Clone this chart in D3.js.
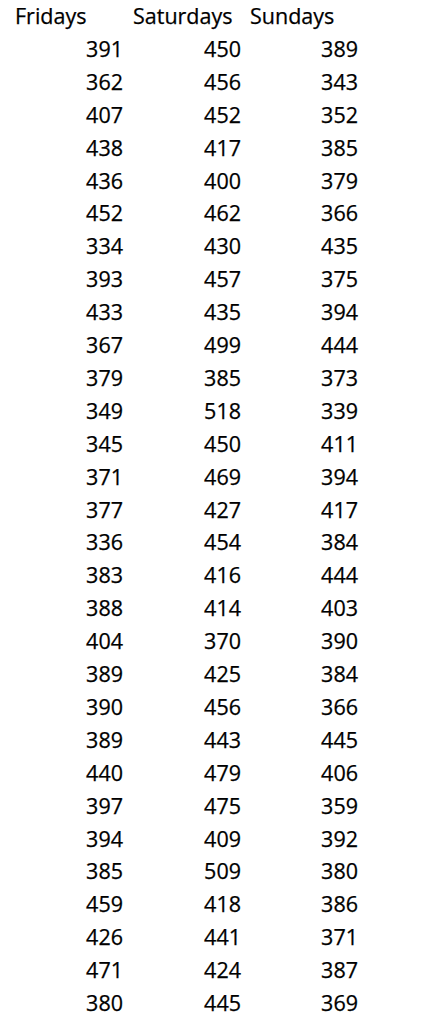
<!DOCTYPE html>
<html lang="en">
<head>
<meta charset="UTF-8">
<title>Weekend counts</title>
<style>
  body { margin: 0; background: #fff; }
  text { font-family: "Open Sans", sans-serif; font-size: 21.5px; fill: #000; stroke: #000; stroke-width: 0.25px; }
</style>
</head>
<body>
<svg width="435" height="1024"></svg>
<script src="https://cdn.jsdelivr.net/npm/d3@7"></script>
<script>
var columns = ["Fridays", "Saturdays", "Sundays"];
var fridays = [391, 362, 407, 438, 436, 452, 334, 393, 433, 367, 379, 349, 345, 371, 377,
               336, 383, 388, 404, 389, 390, 389, 440, 397, 394, 385, 459, 426, 471, 380];
var saturdays = [450, 456, 452, 417, 400, 462, 430, 457, 435, 499, 385, 518, 450, 469, 427,
                 454, 416, 414, 370, 425, 456, 443, 479, 475, 409, 509, 418, 441, 424, 445];
var sundays = [389, 343, 352, 385, 379, 366, 435, 375, 394, 444, 373, 339, 411, 394, 417,
               384, 444, 403, 390, 384, 366, 445, 406, 359, 392, 380, 386, 371, 387, 369];
var series = [fridays, saturdays, sundays];

var svg = d3.select("svg");

// header left edges and value right edges per column
var headerX = d3.scaleOrdinal().domain(columns).range([15, 133, 250]);
var valueX = d3.scaleOrdinal().domain(columns).range([123, 241, 358]);
var y = d3.scaleLinear().domain([0, 29]).range([57, 1011]);

svg.selectAll("text.head")
  .data(columns)
  .enter().append("text")
  .attr("class", "head")
  .attr("x", function (d) { return headerX(d); })
  .attr("y", 24)
  .text(function (d) { return d; });

columns.forEach(function (c, ci) {
  svg.selectAll("text.v" + ci)
    .data(series[ci])
    .enter().append("text")
    .attr("class", "v" + ci)
    .attr("text-anchor", "end")
    .attr("x", valueX(c))
    .attr("y", function (d, i) { return y(i); })
    .text(function (d) { return d; });
});
</script>
</body>
</html>
